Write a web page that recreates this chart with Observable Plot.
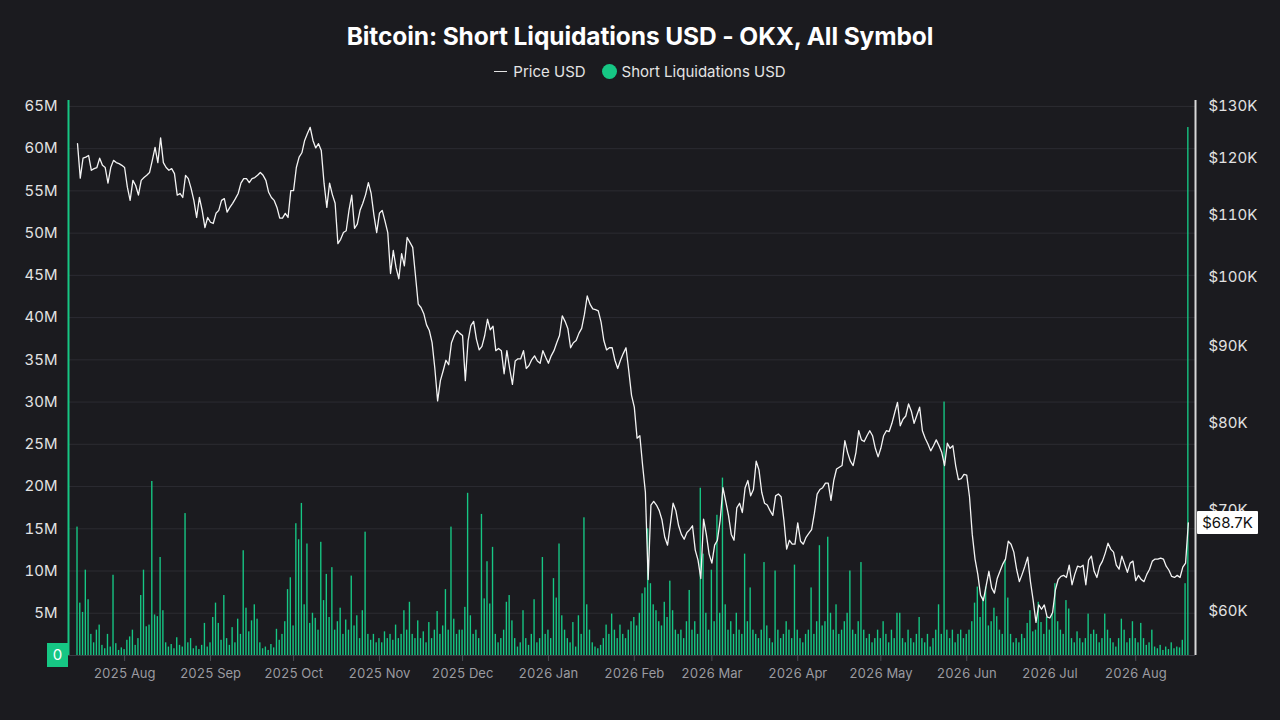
<!DOCTYPE html>
<html><head><meta charset="utf-8">
<script src="https://cdn.jsdelivr.net/npm/d3@7"></script>
<script src="https://cdn.jsdelivr.net/npm/@observablehq/plot@0.6"></script>
<style>
html,body{margin:0;padding:0;background:#1b1b1f;}
body{width:1280px;height:720px;overflow:hidden;font-family:Inter,"Noto Sans",sans-serif;}
#wrap{position:relative;width:1280px;height:720px;}
#title{position:absolute;top:21px;left:0;width:1280px;text-align:center;color:#ffffff;font-weight:700;font-size:24.5px;letter-spacing:-0.1px;}
#legend{position:absolute;top:62px;left:0;width:1280px;display:flex;justify-content:center;align-items:center;color:#e4e4e4;font-size:15px;}
#legend .item{display:flex;align-items:center;margin:0 8px;}
#legend .dash{display:inline-block;width:13px;height:1.5px;background:#e4e4e4;margin-right:6px;}
#legend .dot{display:inline-block;width:15px;height:15px;border-radius:50%;background:#16c784;margin-right:5px;}
.layer{position:absolute;left:0;top:90px;}
.tag{position:absolute;font-size:15px;line-height:23px;height:23px;text-align:center;}
</style></head>
<body><div id="wrap">
<div id="title">Bitcoin: Short Liquidations USD - OKX, All Symbol</div>
<div id="legend"><span class="item"><span class="dash"></span>Price USD</span><span class="item"><span class="dot"></span>Short Liquidations USD</span></div>
<div id="bars" class="layer"></div>
<div id="price" class="layer"></div>
</div>
<script>
// ---- data (daily, starting 2025-07-15) ----
const seriesStart = "2025-07-15";
// Bitcoin price, thousands USD
const priceK = [
122.7,116.4,120.0,120.2,120.5,117.8,118.1,118.3,120.0,118.7,118.3,115.5,118.3,119.6,119.2,119.0,118.7,
118.3,114.8,112.5,116.0,115.1,113.4,116.0,116.5,116.9,117.4,119.6,122.0,119.2,123.8,119.2,118.3,117.8,118.1,117.2,113.4,113.7,113.0,116.9,116.3,114.6,112.5,109.6,113.0,110.8,107.9,109.6,
108.8,108.6,110.3,110.8,112.5,112.8,110.5,111.3,112.0,112.8,113.7,115.5,116.3,116.3,115.6,116.3,116.5,116.9,117.4,116.9,116.0,113.9,113.0,112.5,111.3,109.5,109.5,110.3,109.6,114.2,
114.2,118.3,120.2,121.0,123.3,124.6,125.8,123.3,121.9,122.7,121.4,115.5,111.3,115.5,113.5,112.0,105.3,106.0,107.1,107.4,110.8,113.4,107.8,108.5,110.8,112.0,113.5,115.6,113.7,110.0,107.1,
110.3,110.8,109.0,107.1,100.6,104.2,101.5,99.8,103.7,101.8,106.3,105.5,104.7,100.3,96.0,95.5,94.6,93.0,92.2,90.5,87.0,82.8,85.4,86.7,88.1,87.5,90.5,91.5,92.2,91.8,
91.5,85.4,90.8,92.9,93.5,91.0,89.5,90.0,91.5,93.8,92.3,92.8,89.4,89.7,89.4,86.3,89.4,87.0,84.9,88.0,88.3,88.3,89.4,87.0,87.4,88.2,88.7,88.0,87.7,89.4,88.5,
87.7,88.7,89.4,90.5,91.5,94.3,93.5,92.5,89.8,90.5,90.8,91.8,92.5,94.5,97.2,96.0,95.3,95.2,95.0,93.4,90.8,89.5,89.8,89.8,88.1,87.0,88.1,89.0,89.8,86.7,83.5,
82.0,78.2,78.5,75.0,72.0,63.0,70.6,71.0,70.6,70.0,69.0,67.2,66.4,68.5,70.8,70.0,68.4,67.5,67.0,67.7,68.0,68.4,65.9,64.9,63.1,69.1,67.5,65.5,
64.6,66.4,66.9,69.0,72.5,71.0,69.5,67.5,66.9,70.3,70.8,69.8,72.5,73.3,71.6,72.3,75.5,74.5,72.0,70.8,70.6,70.0,69.5,71.6,71.8,71.5,69.0,66.0,66.9,66.5,66.5,
68.7,66.8,66.5,67.2,67.6,68.0,69.7,71.8,72.3,72.5,73.0,73.0,71.1,73.3,74.6,74.8,75.0,77.9,76.5,75.5,75.0,76.5,79.1,78.0,77.8,78.5,79.1,78.5,77.0,76.0,
77.0,78.5,79.1,79.0,80.0,81.3,82.6,79.7,80.5,80.9,82.4,81.5,80.0,81.0,82.0,79.1,78.2,77.5,76.7,77.3,78.0,77.3,76.5,75.0,77.6,77.0,77.3,75.0,73.4,73.5,74.0,
73.9,71.5,67.5,65.0,63.5,61.5,61.0,62.4,63.8,62.2,61.7,63.1,63.8,64.5,65.0,66.8,66.5,65.7,64.0,62.8,63.5,64.3,65.2,62.8,61.0,59.0,60.6,60.2,60.6,59.5,
59.4,59.9,62.0,63.0,63.3,63.4,63.2,64.4,62.5,63.5,64.3,64.2,64.4,62.5,64.9,65.3,63.8,63.2,64.3,64.8,65.6,66.6,66.0,65.7,64.4,64.0,65.3,64.5,63.7,64.6,64.8,
62.9,63.4,63.0,62.8,63.5,64.0,64.8,65.0,65.0,65.1,65.0,64.3,63.9,63.3,63.2,63.4,63.2,64.2,64.6,68.7
];
// Short liquidations, millions USD
const liqM = [
15.2,6.2,5.1,10.1,6.6,2.5,1.5,3.0,3.6,1.2,0.8,2.5,1.0,9.5,1.4,0.6,0.9,
0.7,1.8,2.2,3.0,1.2,2.0,7.1,10.1,3.4,3.6,20.6,4.8,4.6,11.6,5.3,1.5,1.0,1.3,0.8,2.1,1.2,1.0,16.8,1.5,2.0,0.8,1.1,0.7,1.2,3.8,1.0,
1.5,4.5,6.2,3.8,1.8,7.1,2.0,1.2,3.3,1.5,4.3,2.5,12.4,5.6,2.8,4.1,6.0,4.3,1.5,0.8,1.0,0.6,1.3,0.9,3.1,1.8,2.5,4.0,7.8,9.2,
3.5,15.6,13.7,18.0,6.0,13.2,3.8,5.0,4.4,3.0,13.4,6.5,9.6,4.5,10.4,3.0,4.0,5.6,2.5,4.2,3.0,9.4,3.5,4.7,2.0,5.3,14.6,2.5,1.8,2.5,1.5,
2.0,1.5,2.8,2.0,2.5,1.8,3.6,2.0,2.5,5.3,3.0,6.3,2.5,2.0,4.1,2.0,2.8,1.5,3.9,2.0,3.0,5.2,2.5,3.5,7.8,3.0,15.2,4.3,2.5,3.0,
3.0,5.7,19.2,4.7,2.5,3.0,2.0,16.7,6.7,11.1,6.1,12.8,2.5,1.5,2.0,3.0,6.3,7.1,4.1,2.0,1.0,1.5,5.3,2.0,1.2,2.5,6.6,1.5,2.0,11.6,2.5,
3.0,2.0,9.1,6.8,13.2,4.7,3.0,2.0,1.5,3.9,1.0,4.7,2.5,16.3,6.0,3.0,1.5,1.0,0.8,1.2,2.0,3.6,2.5,4.9,3.0,2.0,3.6,2.5,2.0,3.0,4.0,
4.5,3.5,5.0,7.3,8.0,15.0,8.5,6.0,5.3,4.0,3.5,6.3,4.5,8.8,5.3,3.0,2.5,3.0,2.0,4.0,7.7,3.0,4.0,2.5,19.8,12.0,5.0,3.0,
10.1,4.0,16.6,5.0,21.0,6.0,3.0,4.0,2.5,5.0,3.0,2.5,12.0,4.0,8.0,3.0,2.5,2.0,3.0,11.0,3.5,2.0,1.5,10.0,3.0,2.0,2.5,4.0,3.0,2.0,10.7,
3.0,2.0,1.5,2.5,3.0,8.0,2.5,4.0,13.0,3.5,4.0,14.0,5.0,3.0,6.0,2.5,3.0,4.0,5.0,10.0,3.0,2.5,4.0,11.0,3.0,2.0,2.5,1.5,2.0,3.0,
2.0,4.0,2.5,1.5,3.0,2.0,5.0,5.0,2.0,1.5,3.0,2.0,1.5,2.5,4.5,2.0,1.5,2.5,1.0,2.0,3.0,6.0,2.5,30.0,3.0,2.0,3.0,1.5,2.5,3.0,2.0,
2.5,3.0,4.0,6.2,8.1,4.5,6.9,8.1,3.5,4.0,5.6,4.6,3.0,2.5,11.3,6.8,2.5,1.5,2.0,1.5,2.5,2.0,3.8,5.3,2.8,3.0,6.3,3.9,2.5,4.5,
3.0,4.9,8.5,4.0,3.0,2.5,6.5,5.5,2.0,1.5,2.8,2.0,1.5,2.0,4.9,2.5,3.0,2.5,1.5,2.0,4.9,3.0,2.0,1.5,1.0,2.0,4.3,3.0,1.5,2.0,4.0,
2.0,1.5,3.8,2.0,1.2,1.5,3.0,1.0,0.8,1.2,0.6,1.0,0.7,1.5,0.8,1.0,0.9,1.8,8.5,62.5
];
const liqTicksM = [0,5,10,15,20,25,30,35,40,45,50,55,60,65];
const priceTicksK = [60,70,80,90,100,110,120,130];
const monthTicks = ["2025-08-01","2025-09-01","2025-10-01","2025-11-01","2025-12-01","2026-01-01","2026-02-01","2026-03-01","2026-04-01","2026-05-01","2026-06-01","2026-07-01","2026-08-01"];
const latestPriceLabel = "$68.7K";
const latestLiqLabel = "0";

// ---- build ----
const start = new Date(seriesStart + "T00:00:00Z");
const day = i => d3.utcDay.offset(start, i);
const priceData = priceK.map((p, i) => ({date: day(i), price: p * 1000}));
const liqData = liqM.map((v, i) => ({
  x1: d3.utcHour.offset(day(i), -12), x2: d3.utcHour.offset(day(i), 12), value: v * 1e6
}));
const xDomain = [new Date("2025-07-11T18:00:00Z"), new Date("2026-08-22T14:00:00Z")];
const W = 1280, H = 630, MT = 10, MB = 65, ML = 68, MR = 85;
const common = {
  width: W, height: H, marginTop: MT, marginBottom: MB, marginLeft: ML, marginRight: MR,
  style: {background: "transparent", color: "#e0e0e0", fontFamily: "Inter, 'Noto Sans', sans-serif", overflow: "visible"}
};

const barsChart = Plot.plot({
  ...common,
  x: {type: "utc", domain: xDomain, axis: null},
  y: {domain: [0, 65.7e6], axis: null},
  marks: [
    Plot.gridY(liqTicksM.map(v => v * 1e6), {stroke: "#2c2c32", strokeOpacity: 1}),
    Plot.rectY(liqData, {x1: "x1", x2: "x2", y: "value", fill: "#16c784", insetLeft: 0.7, insetRight: 0.7}),
    Plot.ruleY([0], {stroke: "#3a3a42"}),
    Plot.axisY(liqTicksM.map(v => v * 1e6), {
      anchor: "left", label: null, tickSize: 0, tickPadding: 11, fontSize: 15, fill: "#e2e2e2",
      tickFormat: d => d === 0 ? "" : (d / 1e6) + "M"
    }),
    Plot.axisX(monthTicks.map(s => new Date(s + "T00:00:00Z")), {
      anchor: "bottom", label: null, tickSize: 6, tickPadding: 7, fontSize: 13, fill: "#9a9aa0", stroke: "#4a4a52",
      tickFormat: d3.utcFormat("%Y %b")
    }),
    Plot.ruleX([xDomain[0]], {stroke: "#16c784", strokeWidth: 2})
  ]
});
document.getElementById("bars").appendChild(barsChart);

const priceChart = Plot.plot({
  ...common,
  x: {type: "utc", domain: xDomain, axis: null},
  y: {type: "log", domain: [56090, 131070], axis: null},
  marks: [
    Plot.line(priceData, {x: "date", y: "price", stroke: "#f4f4f4", strokeWidth: 1.3}),
    Plot.axisY(priceTicksK.map(v => v * 1000), {
      anchor: "right", label: null, tickSize: 0, tickPadding: 13, fontSize: 15, fill: "#e2e2e2",
      tickFormat: d => "$" + (d / 1000) + "K"
    }),
    Plot.ruleX([xDomain[1]], {stroke: "#d8d8d8", strokeWidth: 2})
  ]
});
document.getElementById("price").appendChild(priceChart);

// value tags
const wrap = document.getElementById("wrap");
const pY = 90 + priceChart.scale("y").apply(priceData[priceData.length - 1].price);
const t1 = document.createElement("div");
t1.className = "tag"; t1.textContent = latestPriceLabel;
Object.assign(t1.style, {left: (W - MR + 2) + "px", top: (pY - 11.5) + "px", width: "61px", background: "#ffffff", color: "#111", borderRadius: "1px"});
wrap.appendChild(t1);
const lY = 90 + barsChart.scale("y").apply(0);
const t2 = document.createElement("div");
t2.className = "tag"; t2.textContent = latestLiqLabel;
Object.assign(t2.style, {left: (ML - 21) + "px", top: (lY - 12) + "px", width: "21px", height: "24px", lineHeight: "24px", background: "#16c784", color: "#fff"});
wrap.appendChild(t2);
</script>
</body></html>
